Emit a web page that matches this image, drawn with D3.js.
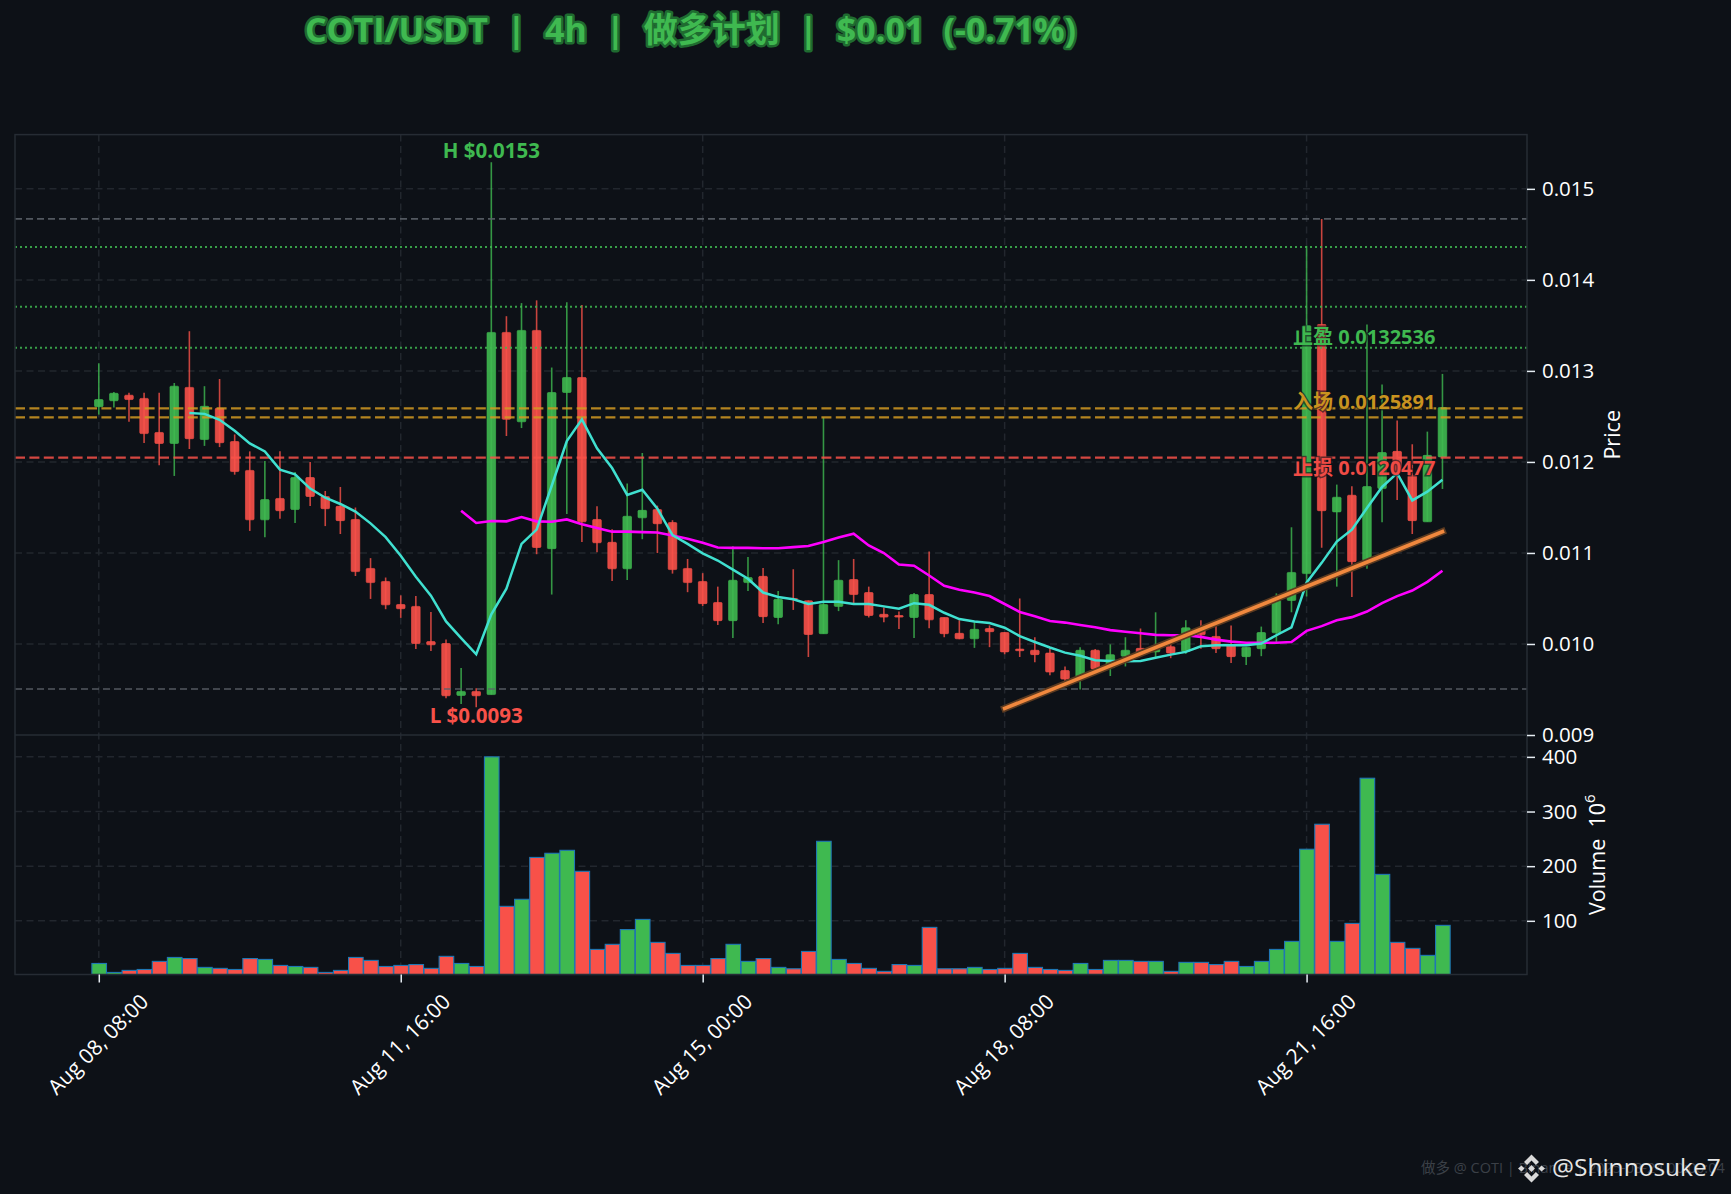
<!DOCTYPE html>
<html><head><meta charset="utf-8">
<script src="https://cdn.jsdelivr.net/npm/d3@7/dist/d3.min.js"></script>
<style>
html,body{margin:0;padding:0;background:#0d1117;}
svg{display:block;}
text{font-family:"Open Sans","Noto Sans CJK SC",sans-serif;}
</style></head><body>
<svg id="c" width="1731" height="1194"></svg>
<script>
const tickIndex=[0,20,40,60,80];
const tickLabels=["Aug 08, 08:00","Aug 11, 16:00","Aug 15, 00:00","Aug 18, 08:00","Aug 21, 16:00"];
const priceTicks=[0.009,0.010,0.011,0.012,0.013,0.014,0.015];
const volumeTicks=[100,200,300,400];

const open=[0.012607,0.012672,0.012733,0.012698,0.012324,0.012203,0.012819,0.012246,0.012589,0.012224,0.011907,0.011364,0.011599,0.011477,0.011829,0.011620,0.011512,0.011368,0.010830,0.010687,0.010434,0.010413,0.010026,0.010005,0.009435,0.009479,0.009444,0.013423,0.012441,0.013445,0.011047,0.012763,0.012928,0.011368,0.011117,0.010826,0.011386,0.011477,0.011334,0.010830,0.010687,0.010456,0.010256,0.010674,0.010743,0.010291,0.010500,0.010474,0.010113,0.010413,0.010708,0.010565,0.010326,0.010313,0.010291,0.010543,0.010291,0.010117,0.010057,0.010170,0.010126,0.009944,0.009931,0.009900,0.009709,0.009631,0.009931,0.009740,0.009866,0.009952,0.009913,0.009970,0.009918,0.010178,0.010083,0.009987,0.009861,0.009948,0.010122,0.010478,0.010773,0.013510,0.011451,0.011634,0.010917,0.011707,0.012116,0.011851,0.011342,0.012055];
const close=[0.012685,0.012754,0.012685,0.012311,0.012203,0.012832,0.012255,0.012611,0.012211,0.011894,0.011364,0.011586,0.011464,0.011829,0.011620,0.011486,0.011355,0.010795,0.010674,0.010430,0.010387,0.010005,0.009991,0.009431,0.009479,0.009431,0.013423,0.012468,0.013445,0.011060,0.012763,0.012928,0.011342,0.011112,0.010826,0.011403,0.011468,0.011321,0.010817,0.010674,0.010443,0.010256,0.010700,0.010730,0.010300,0.010491,0.010491,0.010104,0.010434,0.010700,0.010543,0.010313,0.010295,0.010295,0.010543,0.010265,0.010113,0.010057,0.010161,0.010135,0.009913,0.009926,0.009883,0.009692,0.009614,0.009931,0.009726,0.009883,0.009931,0.009892,0.009978,0.009900,0.010178,0.010100,0.009948,0.009861,0.009965,0.010126,0.010478,0.010786,0.013497,0.011464,0.011612,0.010904,0.011729,0.012103,0.011890,0.011355,0.012072,0.012598];
const high=[0.013084,0.012767,0.012759,0.012759,0.012759,0.012867,0.013436,0.012832,0.012911,0.012302,0.012116,0.012011,0.012116,0.011890,0.011998,0.011681,0.011725,0.011499,0.010943,0.010730,0.010534,0.010526,0.010352,0.010048,0.009735,0.009514,0.015291,0.013601,0.013745,0.013775,0.013037,0.013753,0.013723,0.011512,0.011260,0.011764,0.012098,0.011520,0.011360,0.010934,0.010778,0.010630,0.011073,0.010956,0.010834,0.010582,0.010821,0.010478,0.012489,0.010921,0.010934,0.010630,0.010400,0.010356,0.010561,0.011017,0.010291,0.010261,0.010239,0.010204,0.010130,0.010500,0.010074,0.009957,0.009753,0.009965,0.009944,0.009996,0.010074,0.010170,0.010348,0.010065,0.010261,0.010261,0.010213,0.010204,0.009965,0.010191,0.010556,0.011282,0.014375,0.014670,0.011751,0.011733,0.013510,0.012850,0.012454,0.012194,0.012333,0.012967];
const low=[0.012520,0.012598,0.012441,0.012207,0.011964,0.011846,0.012142,0.012176,0.012163,0.011860,0.011242,0.011173,0.011377,0.011329,0.011516,0.011295,0.011208,0.010747,0.010495,0.010382,0.010287,0.009944,0.009922,0.009405,0.009340,0.009305,0.009444,0.012285,0.012372,0.010986,0.010543,0.011429,0.011121,0.011008,0.010691,0.010704,0.011151,0.010999,0.010773,0.010569,0.010417,0.010209,0.010065,0.010582,0.010230,0.010217,0.010374,0.009857,0.010113,0.010361,0.010448,0.010291,0.010239,0.010165,0.010065,0.010174,0.010074,0.010052,0.009957,0.009965,0.009887,0.009857,0.009800,0.009657,0.009570,0.009500,0.009709,0.009648,0.009753,0.009866,0.009857,0.009844,0.009892,0.009948,0.009900,0.009792,0.009770,0.009866,0.010022,0.010348,0.010522,0.011056,0.010630,0.010517,0.010826,0.011338,0.011581,0.011208,0.011342,0.011703];
const volume=[22,5.6,9.3,11,25.8,33,31,14.8,13,11,31,29.4,18.4,16.5,14.8,5.6,9.3,33,27.6,16.5,18.4,20,13,35,22,16.5,400,126.5,139.4,216,223.6,229,190.6,47.7,57,84,102.6,60.6,40.4,18.4,18.4,31,57,25.8,31,14.8,12.3,44,245.5,29.4,22,13,7.5,20,18.4,88,12.3,12.3,14.8,11,13,40.4,14.8,11,9.3,22,11,27.6,27.6,25.8,25.8,7.5,24,24,20,25.8,16.5,25.8,47.7,62.4,231,276.7,62.4,95.3,360.9,185,60.6,49.6,36.8,91.7];
const maFast=[null,null,null,null,null,null,0.012537,0.012528,0.012463,0.012342,0.012203,0.012116,0.011916,0.011864,0.011707,0.011607,0.011538,0.011455,0.011325,0.011173,0.010969,0.010739,0.010530,0.010248,0.010065,0.009887,0.010326,0.010608,0.011100,0.011256,0.011738,0.012229,0.012468,0.012150,0.011933,0.011638,0.011694,0.011486,0.011195,0.011100,0.010995,0.010917,0.010817,0.010717,0.010565,0.010517,0.010491,0.010439,0.010465,0.010465,0.010439,0.010439,0.010413,0.010387,0.010448,0.010430,0.010343,0.010274,0.010248,0.010230,0.010178,0.010087,0.010022,0.009961,0.009905,0.009870,0.009822,0.009814,0.009809,0.009814,0.009848,0.009883,0.009913,0.009974,0.009987,0.009987,0.009987,0.010005,0.010096,0.010183,0.010674,0.010891,0.011125,0.011256,0.011494,0.011725,0.011877,0.011577,0.011673,0.011803];
const maSlow=[null,null,null,null,null,null,null,null,null,null,null,null,null,null,null,null,null,null,null,null,null,null,null,null,0.011464,0.011329,0.011351,0.011347,0.011395,0.011347,0.011342,0.011368,0.011316,0.011273,0.011234,0.011234,0.011229,0.011225,0.011191,0.011156,0.011112,0.011060,0.011056,0.011056,0.011051,0.011051,0.011064,0.011077,0.011121,0.011169,0.011212,0.011082,0.010999,0.010873,0.010860,0.010752,0.010639,0.010595,0.010565,0.010526,0.010439,0.010352,0.010304,0.010252,0.010235,0.010209,0.010183,0.010152,0.010135,0.010117,0.010100,0.010096,0.010096,0.010078,0.010048,0.010026,0.010013,0.010013,0.010013,0.010022,0.010144,0.010196,0.010261,0.010295,0.010356,0.010448,0.010526,0.010587,0.010682,0.010804];

const gridLevels=[{p:0.014670,c:"#5a6068",w:1.6,d:"7,4"},{p:0.009505,c:"#5a6068",w:1.6,d:"7,4"}];
const targetLevels=[0.014362,0.013706,0.0132536];
const entryLevels=[0.0125891,0.012489];
const stopLevel=0.0120477;
const trendIndex=[60,89];
const trendPrice=[0.009292,0.011234];
const levelLabels=[
  {t:"止盈 0.0132536",p:0.013356,c:"#3fb950"},
  {t:"入场 0.0125891",p:0.012640,c:"#c9931f"},
  {t:"止损 0.0120477",p:0.011920,c:"#f04b45"}];
const titleText="COTI/USDT  |  4h  |  做多计划  |  $0.01  (-0.71%)";

const UP="#3fb950",DOWN="#f85149",GRID="#22272e",BG="#0d1117";
const L=15,R=1527,PT=134.6,PB=735,VT=735,VB=974.5;
const x=d3.scaleLinear().domain([-5.55,94.6]).range([L,R]);
const y=d3.scaleLinear().domain([0.009,0.015596]).range([PB,PT]);
const v=d3.scaleLinear().domain([1.8,440]).range([VB,VT]);
const svg=d3.select("#c");
const idx=d3.range(open.length);
const col=i=>close[i]>=open[i]?UP:DOWN;

/* grid */
const g=svg.append("g");
g.selectAll(".gh").data(priceTicks.slice(1)).join("line").attr("x1",L).attr("x2",R)
 .attr("y1",d=>y(d)).attr("y2",d=>y(d)).attr("stroke",GRID).attr("stroke-width",1.5).attr("stroke-dasharray","7,4.5");
g.selectAll(".gv").data(volumeTicks).join("line").attr("x1",L).attr("x2",R)
 .attr("y1",d=>v(d)).attr("y2",d=>v(d)).attr("stroke",GRID).attr("stroke-width",1.5).attr("stroke-dasharray","7,4.5");
g.selectAll(".gx").data(tickIndex).join("line").attr("x1",d=>x(d)).attr("x2",d=>x(d))
 .attr("y1",PT).attr("y2",VB).attr("stroke",GRID).attr("stroke-width",1.5).attr("stroke-dasharray","7,4.5");

/* volume bars */
svg.append("g").selectAll("rect").data(idx).join("rect")
 .attr("x",i=>x(i)-6.9).attr("width",14.6)
 .attr("y",i=>v(volume[i])).attr("height",i=>VB-v(volume[i]))
 .attr("fill",col).attr("stroke","#1f77b4").attr("stroke-width",1.1);

/* candles */
const cg=svg.append("g");
cg.selectAll("line").data(idx).join("line")
 .attr("x1",i=>x(i)).attr("x2",i=>x(i)).attr("y1",i=>y(high[i])).attr("y2",i=>y(low[i]))
 .attr("stroke",col).attr("stroke-width",1.6).attr("stroke-opacity",.8);
cg.selectAll("rect").data(idx).join("rect")
 .attr("x",i=>x(i)-4.3).attr("width",8.6).attr("rx",1)
 .attr("y",i=>y(Math.max(open[i],close[i])))
 .attr("height",i=>Math.abs(y(open[i])-y(close[i])))
 .attr("fill",col).attr("fill-opacity",.9).attr("stroke",col).attr("stroke-opacity",.9).attr("stroke-width",.7);

/* level lines */
const lg=svg.append("g");
const hl=(p,c,w,d,o)=>lg.append("line").attr("x1",L).attr("x2",R).attr("y1",y(p)).attr("y2",y(p))
 .attr("stroke",c).attr("stroke-width",w).attr("stroke-dasharray",d).attr("stroke-opacity",o);
gridLevels.forEach(l=>hl(l.p,l.c,l.w,l.d,.9));
targetLevels.forEach(p=>hl(p,UP,2,"2,3",.85));
entryLevels.forEach(p=>hl(p,"#d29922",2.3,"10,4.4",.85));
hl(stopLevel,DOWN,2.3,"10,4.4",.85);

/* moving averages */
const line=a=>d3.line().defined(i=>a[i]!=null).x(i=>x(i)).y(i=>y(a[i]))(idx);
svg.append("path").attr("d",line(maSlow)).attr("fill","none").attr("stroke","#ff00ff").attr("stroke-width",2.6);
svg.append("path").attr("d",line(maFast)).attr("fill","none").attr("stroke","#40e0d0").attr("stroke-width",2.5);

/* trend line */
const tl=d3.line().x(d=>x(d[0])).y(d=>y(d[1]))(trendIndex.map((d,k)=>[d,trendPrice[k]]));
svg.append("path").attr("d",tl).attr("fill","none").attr("stroke","#5b3a20").attr("stroke-width",7).attr("stroke-linecap","square");
svg.append("path").attr("d",tl).attr("fill","none").attr("stroke","#f0883e").attr("stroke-width",3.6).attr("stroke-linecap","square");

/* panel frame */
const fr=svg.append("g").attr("fill","none").attr("stroke","#262c34").attr("stroke-width",1.5);
fr.append("rect").attr("x",L).attr("y",PT).attr("width",R-L).attr("height",VB-PT);
fr.append("line").attr("x1",L).attr("x2",R).attr("y1",PB).attr("y2",PB);

/* axes */
const axisStyle=a=>{a.select(".domain").remove();a.selectAll(".tick line").attr("stroke","#e6edf3").attr("stroke-width",1.5);
 a.selectAll("text").attr("fill","#ffffff").style("font-size","20.5px");};
svg.append("g").attr("transform",`translate(${R},0)`)
 .call(d3.axisRight(y).tickValues(priceTicks).tickFormat(d3.format(".3f")).tickSize(8).tickPadding(7)).call(axisStyle);
svg.append("g").attr("transform",`translate(${R},0)`)
 .call(d3.axisRight(v).tickValues(volumeTicks).tickSize(8).tickPadding(7)).call(axisStyle);
const xa=svg.append("g").attr("transform",`translate(0,${VB})`)
 .call(d3.axisBottom(x).tickValues(tickIndex).tickFormat((d,k)=>tickLabels[k]).tickSize(8)).call(axisStyle);
xa.selectAll("text").style("font-size","21px").attr("text-anchor","middle").attr("dominant-baseline","middle")
 .attr("y",0).attr("dy",0).attr("transform","translate(0,71) rotate(-45)");

/* axis titles */
svg.append("text").attr("transform",`translate(1614,${(PT+PB)/2}) rotate(-90)`).attr("text-anchor","middle")
 .attr("dominant-baseline","middle").attr("fill","#fff").style("font-size","21.5px").text("Price");
const vt=svg.append("text").attr("transform",`translate(1599,${(VT+VB)/2}) rotate(-90)`).attr("text-anchor","middle")
 .attr("dominant-baseline","middle").attr("fill","#fff").style("font-size","21.5px").style("white-space","pre");
vt.append("tspan").text("Volume  10");
vt.append("tspan").attr("dy",-8).style("font-size","15px").text("6");

/* extreme labels */
const hi=d3.maxIndex(high),lo=d3.minIndex(low);
svg.append("text").attr("x",x(hi)).attr("y",y(high[hi])-10).attr("text-anchor","middle").attr("dominant-baseline","middle")
 .attr("fill",UP).style("font-size","20.5px").style("font-weight",700).text("H $"+high[hi].toFixed(4));
svg.append("text").attr("x",x(lo)).attr("y",y(low[lo])+10.5).attr("text-anchor","middle").attr("dominant-baseline","middle")
 .attr("fill",DOWN).style("font-size","20.5px").style("font-weight",700).text("L $"+low[lo].toFixed(4));

/* level labels */
svg.append("g").selectAll("text").data(levelLabels).join("text")
 .attr("x",1293).attr("y",d=>y(d.p)).attr("dominant-baseline","middle")
 .attr("fill",d=>d.c).attr("stroke","#0d1117").attr("stroke-opacity",.6).attr("stroke-width",3).attr("paint-order","stroke")
 .style("font-size","20px").style("font-weight",700).style("white-space","pre").text(d=>d.t);

/* title */
svg.append("text").attr("x",690.5).attr("y",33).attr("text-anchor","middle").attr("dominant-baseline","middle")
 .attr("fill",UP).attr("stroke","#1f6b30").attr("stroke-width",5).attr("stroke-linejoin","round")
 .attr("paint-order","stroke").style("font-size","34px").style("word-spacing","0.75px").style("font-weight",700).style("white-space","pre").text(titleText);

/* watermarks */
svg.append("text").attr("x",1421).attr("y",1169).attr("dominant-baseline","middle").attr("fill","#3b4047")
 .style("font-size","14.5px").text("做多 @ COTI | Binance | 2025-08-24 00:00:04");
svg.append("path").attr("transform","translate(1531.5,1168.5)").attr("fill","#d9d9d9")
 .attr("d","M0,-14 L7.5,-6.5 L4.4,-3.6 L0,-8 L-4.4,-3.6 L-7.5,-6.5 Z M0,14 L7.5,6.5 L4.4,3.6 L0,8 L-4.4,3.6 L-7.5,6.5 Z M-10,-3 L-7,0 L-10,3 L-13.5,0 Z M10,-3 L13.5,0 L10,3 L7,0 Z M0,-3.4 L3.4,0 L0,3.4 L-3.4,0 Z");
svg.append("text").attr("x",1552).attr("y",1169).attr("dominant-baseline","middle").attr("fill","#e6e6e6")
 .style("font-size","24.5px").text("@Shinnosuke7");
</script>
</body></html>
